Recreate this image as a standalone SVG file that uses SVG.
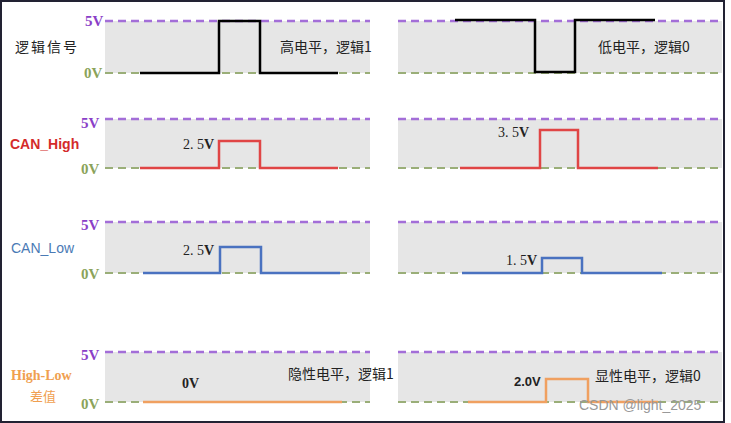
<svg xmlns="http://www.w3.org/2000/svg" width="731" height="423" viewBox="0 0 731 423">
<style>
.bg{fill:#e6e6e6}
.v5{stroke:#a36ed8;stroke-width:2.5;stroke-dasharray:8,5}
.v0{stroke:#9aae78;stroke-width:2;stroke-dasharray:8,5}
.l5{fill:#8a3fc8;font:bold 15px "Liberation Serif",serif}
.l0{fill:#8aa35a;font:bold 15px "Liberation Serif",serif}
.t{font:14px "Noto Sans CJK SC","Liberation Serif",serif;fill:#222}
.v{font-family:"Liberation Serif",serif;font-size:14px;fill:#222}
.b{font-weight:bold}
.s{fill:none;stroke-width:2.5}
</style>
<rect width="731" height="423" fill="#fff"/>
<rect x="1" y="1" width="723" height="421" fill="none" stroke="#223" stroke-width="2"/>
<g id="grid">
<rect class="bg" x="105" y="21" width="265" height="52"/><rect class="bg" x="398" y="21" width="324" height="52"/>
<rect class="bg" x="105" y="119" width="265" height="49"/><rect class="bg" x="398" y="119" width="324" height="49"/>
<rect class="bg" x="105" y="222" width="265" height="51"/><rect class="bg" x="398" y="222" width="324" height="51"/>
<rect class="bg" x="105" y="352" width="265" height="50"/><rect class="bg" x="398" y="352" width="324" height="50"/>
<g class="v5"><line x1="105" y1="21" x2="370" y2="21"/><line x1="398" y1="21" x2="722" y2="21"/>
<line x1="105" y1="119" x2="370" y2="119"/><line x1="398" y1="119" x2="722" y2="119"/>
<line x1="105" y1="222" x2="370" y2="222"/><line x1="398" y1="222" x2="722" y2="222"/>
<line x1="105" y1="352" x2="370" y2="352"/><line x1="398" y1="352" x2="722" y2="352"/></g>
<g class="v0"><line x1="105" y1="73" x2="370" y2="73"/><line x1="398" y1="73" x2="722" y2="73"/>
<line x1="105" y1="168" x2="370" y2="168"/><line x1="398" y1="168" x2="722" y2="168"/>
<line x1="105" y1="273" x2="370" y2="273"/><line x1="398" y1="273" x2="722" y2="273"/>
<line x1="105" y1="402" x2="370" y2="402"/><line x1="398" y1="402" x2="722" y2="402"/></g>
<text class="l5" x="85" y="26">5V</text><text class="l0" x="84" y="78">0V</text>
<text class="l5" x="81" y="128">5V</text><text class="l0" x="81" y="174">0V</text>
<text class="l5" x="81" y="230">5V</text><text class="l0" x="81" y="279">0V</text>
<text class="l5" x="81" y="360">5V</text><text class="l0" x="81" y="409">0V</text>
</g>
<g id="labels">
<text class="t" x="15" y="52" letter-spacing="2">逻辑信号</text>
<text x="10" y="149" font-family="Liberation Sans,sans-serif" font-weight="bold" font-size="14" fill="#d42a2a">CAN_High</text>
<text x="11" y="253" font-family="Liberation Sans,sans-serif" font-size="14" fill="#4a7ab5">CAN_Low</text>
<text x="11" y="380" font-family="Liberation Serif,serif" font-weight="bold" font-size="14" fill="#f0a050">High-Low</text>
<text x="30" y="401" font-family="Noto Sans CJK SC,sans-serif" font-size="13" fill="#f0a050">差值</text>
</g>
<g id="signals">
<path class="s" stroke="#000" d="M140 73H219V21H260V73H338"/>
<path class="s" stroke="#000" d="M455 20H535V72H575V20H655"/>
<path class="s" stroke="#e04545" d="M140 168H219V141H260V168H338"/>
<path class="s" stroke="#e04545" d="M460 168H540V130H578V168H658"/>
<path class="s" stroke="#4a72c0" d="M143 273H220V247H261V273H340"/>
<path class="s" stroke="#4a72c0" d="M462 273H542V258H582V273H662"/>
<path class="s" stroke="#f0a060" stroke-width="4" d="M143 402H342"/>
<path class="s" stroke="#f0a060" d="M468 402H546V379H588V402H658"/>
</g>
<g id="texts">
<text class="t" x="280" y="52">高电平，逻辑1</text>
<text class="t" x="598" y="52">低电平，逻辑0</text>
<text class="t" x="288" y="379">隐性电平，逻辑1</text>
<text class="t" x="595" y="381">显性电平，逻辑0</text>
<text class="v" x="183" y="149">2. 5<tspan class="b">V</tspan></text>
<text class="v" x="498" y="137">3. 5<tspan class="b">V</tspan></text>
<text class="v" x="183" y="255">2. 5<tspan class="b">V</tspan></text>
<text class="v" x="506" y="265">1. 5<tspan class="b">V</tspan></text>
<text class="v b" x="182" y="388">0V</text>
<text x="514" y="386" font-family="Liberation Sans,sans-serif" font-weight="bold" font-size="13" fill="#222">2.0V</text>
<text x="579" y="410" font-family="Liberation Sans,sans-serif" font-size="14" fill="#999">CSDN @light_2025</text>
</g>
</svg>
